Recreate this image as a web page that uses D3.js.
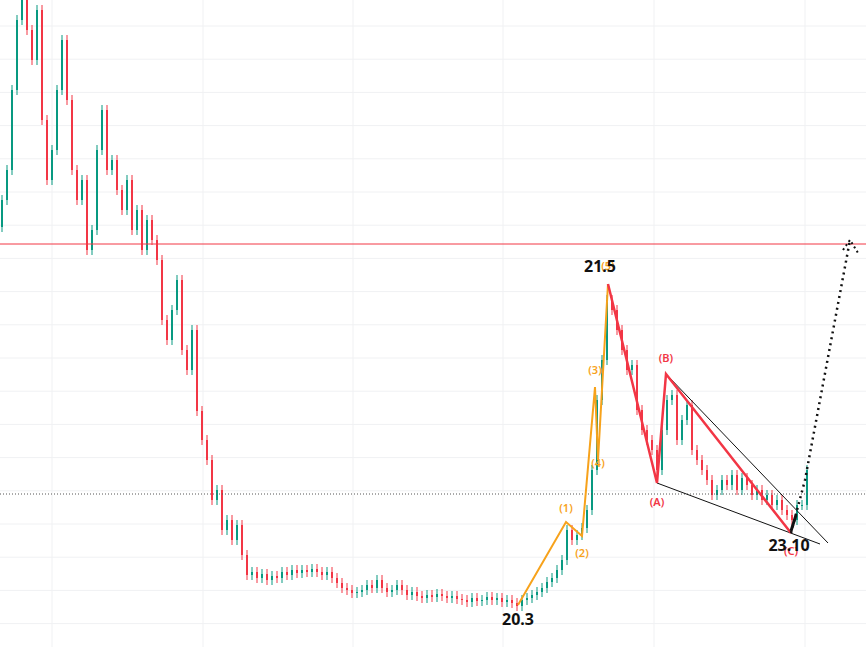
<!DOCTYPE html>
<html><head><meta charset="utf-8">
<script src="https://cdn.jsdelivr.net/npm/d3@7"></script>
<style>body{margin:0;background:#fff}svg{display:block;font-family:"Noto Sans",sans-serif}</style>
</head><body><svg id="chart"></svg>
<script>
// closes, one candle per step, price units
var closes = [44.7,47.7,55.7,62.7,65.7,61.7,58.7,63.7,52.7,46.7,49.7,55.7,60.7,54.7,47.7,44.7,46.7,39.7,41.7,49.7,
  53.7,47.7,48.7,45.7,43.7,46.7,41.7,43.7,39.7,42.7,40.7,38.7,32.7,30.7,33.7,36.7,29.7,27.7,31.7,23.6,
  20.7,18.7,14.7,15.7,11.7,12.7,10.7,12.2,9.2,7.2,7.5,6.9,7.3,6.7,7.1,6.9,7.5,7.2,7.7,7.4,
  7.7,7.5,7.8,7.5,7.2,7.5,6.9,6.4,5.9,5.7,5.4,5.5,5.7,6.2,5.9,6.7,5.9,5.5,5.7,6.2,
  5.7,5.2,5.5,5.1,4.9,5.2,5.0,5.3,5.1,4.9,5.1,4.8,4.7,4.5,4.9,4.6,4.7,5.0,4.7,4.9,
  4.5,4.7,4.4,4.1,4.7,4.9,5.2,5.5,5.9,6.5,6.9,7.7,8.7,11.7,10.7,11.2,11.9,13.7,17.7,24.7,
  28.7,34.7,33.7,31.7,29.7,27.7,28.2,23.7,21.7,20.7,19.7,17.7,21.7,24.7,25.2,20.7,22.7,24.2,19.7,18.7,
  17.7,16.7,15.2,15.7,16.7,16.2,17.2,15.7,16.9,16.2,15.2,15.7,14.7,15.2,14.2,14.7,13.7,13.2,12.7,14.2,
  14.2,17.7];
var firstOpen = 42.0;
var wick = 0.5;

// wave points [candle index, price]
var impulse = [[103.2,4.2],[112.8,12.5],[116,11.1],[118.6,26.0],[119.2,18.7],[121.2,36.3]];
var impulseLabels = ["","(1)","(2)","(3)","(4)","(5)"];
var correction = [[121.2,36.3],[131,16.4],[132.8,27.3],[157.8,11.4]];
var correctionLabels = ["","(A)","(B)","(C)"];
var wedgeTop = [[132.8,27.3],[165.2,10.4]];
var wedgeBottom = [[131,16.4],[163.6,10.3]];
var projection = [[157.8,11.4],[160.6,16.7],[169.6,40.7]];
var priceTags = [{t:"21.5",at:[119.6,37.5]},{t:"20.3",at:[103.2,2.2]},{t:"23.10",at:[157.4,9.6]}];
var resistance = 40.3, lastLevel = 15.3;
var gridX = [10,40.2,70.2,100.2,130.4,160.6];

var W = 866, H = 647;
var svg = d3.select('#chart').attr('width', W).attr('height', H);
var x = d3.scaleLinear().domain([0, 161]).range([2, 807]);
var y = d3.scaleLinear().domain([0, 64.7]).range([H, 0]);

var candles = closes.map((c, i) => {
  var o = i ? closes[i-1] : firstOpen;
  return {i: i, o: o, c: c, h: Math.max(o, c) + wick, l: Math.min(o, c) - wick};
});

svg.append('g').selectAll('line').data(d3.range(62.1, 0, -3.32)).enter().append('line')
  .attr('x1', 0).attr('x2', W).attr('y1', d => y(d)).attr('y2', d => y(d))
  .attr('stroke', '#f0f1f3');
svg.append('g').selectAll('line').data(gridX).enter().append('line')
  .attr('y1', 0).attr('y2', H).attr('x1', d => x(d)).attr('x2', d => x(d))
  .attr('stroke', '#f0f1f3');

var col = d => d.c >= d.o ? '#089981' : '#f23645';
var cg = svg.append('g');
cg.selectAll('.wk').data(candles).enter().append('line')
  .attr('x1', d => x(d.i)).attr('x2', d => x(d.i))
  .attr('y1', d => y(d.h)).attr('y2', d => y(d.l)).attr('stroke', col).attr('stroke-width', 1);
cg.selectAll('.bd').data(candles).enter().append('rect')
  .attr('x', d => x(d.i) - 1).attr('width', 2)
  .attr('y', d => y(Math.max(d.o, d.c))).attr('height', d => Math.max(1, Math.abs(y(d.o) - y(d.c))))
  .attr('fill', col);

svg.append('line').attr('x1', 0).attr('x2', W).attr('y1', y(resistance)).attr('y2', y(resistance))
  .attr('stroke', '#f23645').attr('stroke-width', 1);
svg.append('line').attr('x1', 0).attr('x2', W).attr('y1', y(lastLevel)).attr('y2', y(lastLevel))
  .attr('stroke', '#555').attr('stroke-dasharray', '1,2');

var line = d3.line().x(d => x(d[0])).y(d => y(d[1]));
svg.append('path').attr('d', line(wedgeTop)).attr('stroke', '#111').attr('fill', 'none');
svg.append('path').attr('d', line(wedgeBottom)).attr('stroke', '#111').attr('fill', 'none');
svg.append('path').attr('d', line(impulse)).attr('stroke', '#f7a21b').attr('stroke-width', 2).attr('fill', 'none');
svg.append('path').attr('d', line(correction)).attr('stroke', '#f23645').attr('stroke-width', 2.5).attr('fill', 'none');
svg.append('path').attr('d', line(projection)).attr('stroke', '#111').attr('stroke-width', 2.5)
  .attr('stroke-dasharray', '2,4').attr('fill', 'none');
svg.append('path').attr('d', line([[168.2,39.7],[169.6,40.7],[171.2,39.4]])).attr('stroke', '#111')
  .attr('stroke-width', 2).attr('stroke-dasharray', '2,3').attr('fill', 'none');
svg.append('line').attr('x1', x(157.8)).attr('y1', y(11.6)).attr('x2', x(158.8)).attr('y2', y(13.2))
  .attr('stroke', '#111').attr('stroke-width', 3);

function labels(pts, txt, color, dy) {
  svg.append('g').selectAll('text').data(pts.slice(1)).enter().append('text')
    .attr('x', d => x(d[0])).attr('y', (d, k) => y(d[1]) + dy[k])
    .attr('text-anchor', 'middle').attr('fill', color).style('font-size', '11px').style('font-weight', '600')
    .text((d, k) => txt[k + 1]);
}
labels(impulse, impulseLabels, '#f7a21b', [-10, 21, -13, 7, -14]);
labels(correction, correctionLabels, '#f23645', [23, -12, 22]);

svg.append('g').selectAll('text').data(priceTags).enter().append('text')
  .attr('x', d => x(d.at[0])).attr('y', d => y(d.at[1]))
  .attr('text-anchor', 'middle').attr('fill', '#111').style('font-size', '16px').style('font-weight', 'bold')
  .text(d => d.t);
</script></body></html>
